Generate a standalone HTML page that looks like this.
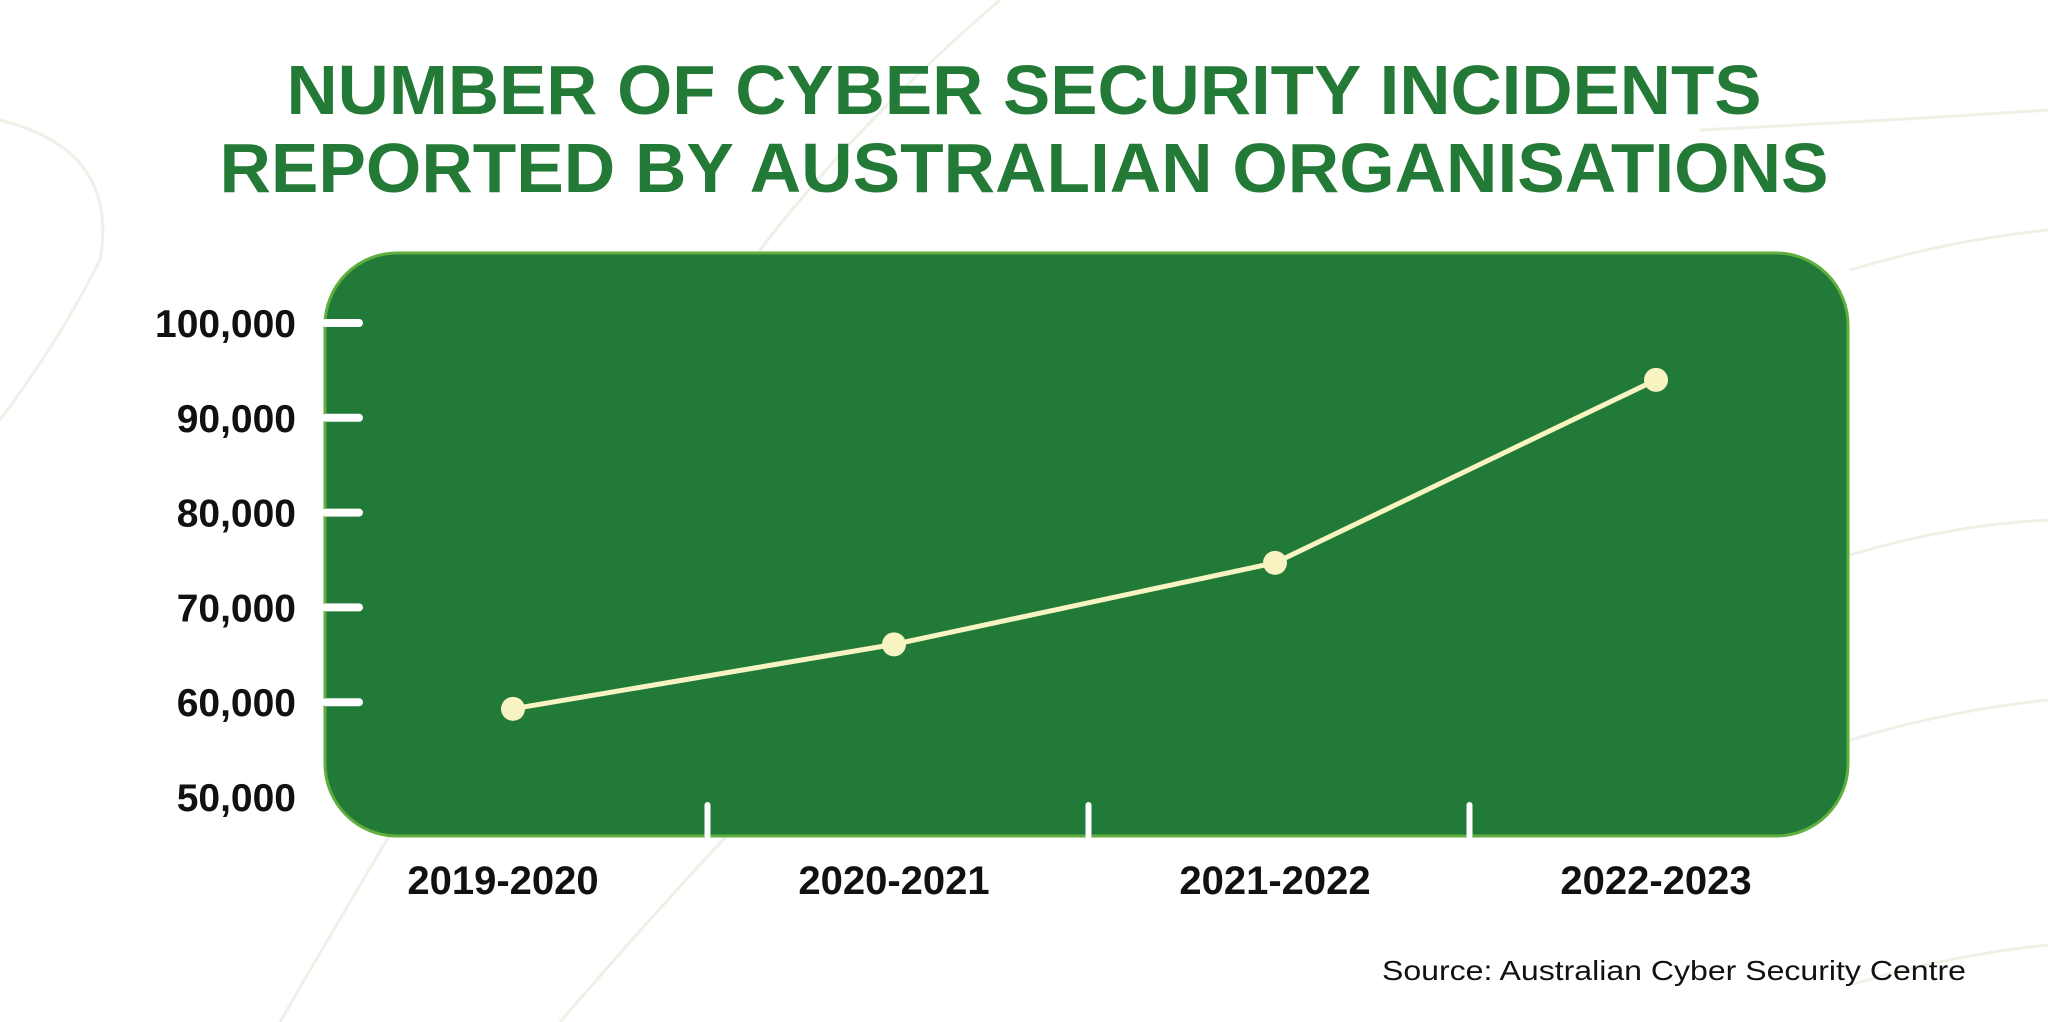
<!DOCTYPE html>
<html><head><meta charset="utf-8"><style>
html,body{margin:0;padding:0;background:#fff}
svg{display:block}
text{font-family:"Liberation Sans",sans-serif}
</style></head><body>
<svg id="c" width="2048" height="1022" viewBox="0 0 2048 1022">
<g fill="none" stroke="#eef1e6" stroke-width="3">
<path d="M0 120 Q120 150 100 260 Q60 340 0 420"/>
<path d="M280 1022 Q500 640 760 250 Q860 120 1000 0"/>
<path d="M560 1022 Q700 860 800 760"/>
<path d="M1850 270 Q1950 240 2048 230"/>
<path d="M1850 555 Q1950 525 2048 520"/>
<path d="M1850 740 Q1950 710 2048 700"/>
<path d="M1850 985 Q1950 955 2048 945"/>
<path d="M1700 130 Q1900 120 2048 110"/>
</g>
<text x="1024" y="114" text-anchor="middle" font-size="70" font-weight="bold" fill="#237a37" textLength="1475" lengthAdjust="spacingAndGlyphs">NUMBER OF CYBER SECURITY INCIDENTS</text>
<text x="1024" y="192" text-anchor="middle" font-size="70" font-weight="bold" fill="#237a37" textLength="1609" lengthAdjust="spacingAndGlyphs">REPORTED BY AUSTRALIAN ORGANISATIONS</text>
<rect x="325" y="253" width="1523" height="583" rx="72" fill="#217a37" stroke="#5fae3e" stroke-width="3"/>
<g id="axes"></g>
<g id="series"></g>
<text x="1966" y="980" text-anchor="end" font-size="28" fill="#111" textLength="584" lengthAdjust="spacingAndGlyphs">Source: Australian Cyber Security Centre</text>
</svg>
<script>
const categories = ["2019-2020","2020-2021","2021-2022","2022-2023"];
const incidents = [59300, 66100, 74700, 94000];
const yTicks = [50000, 60000, 70000, 80000, 90000, 100000];
const yTickLabels = ["50,000","60,000","70,000","80,000","90,000","100,000"];

const NS = "http://www.w3.org/2000/svg";
function y(v){ return 797 - (v - 50000) / 10000 * 94.8; }
function x(i){ return 513 + i * 381; }
function mk(tag, attrs, parent){
  const e = document.createElementNS(NS, tag);
  for (const k in attrs) e.setAttribute(k, attrs[k]);
  parent.appendChild(e); return e;
}
const axes = document.getElementById("axes");
const series = document.getElementById("series");
yTicks.forEach((v, i) => {
  const t = mk("text", {x: 296, y: y(v) + 14, "text-anchor": "end", "font-size": 39, "font-weight": "bold", fill: "#111"}, axes);
  t.textContent = yTickLabels[i];
  
  
  if (v > 50000) {
    const l = mk("line", {x1: 326, x2: 359, y1: y(v), y2: y(v), stroke: "#fff", "stroke-width": 8, "stroke-linecap": "round"}, axes);
    
    
  }
});
categories.forEach((c, i) => {
  const t = mk("text", {x: x(i) - (i === 0 ? 10 : 0), y: 894, "text-anchor": "middle", "font-size": 40, "font-weight": "bold", fill: "#111"}, axes);
  t.textContent = c;
  
  
  if (i > 0) {
    const xm = (x(i - 1) + x(i)) / 2 + 4;
    const l = mk("line", {x1: xm, x2: xm, y1: 805, y2: 836, stroke: "#fff", "stroke-width": 6, "stroke-linecap": "round"}, axes);
    
    
  }
});
const pts = incidents.map((v, i) => x(i) + "," + y(v)).join(" ");
const pl = mk("polyline", {points: pts, fill: "none", stroke: "#f8f4c2", "stroke-width": 5, "stroke-linejoin": "round"}, series);


incidents.forEach((v, i) => {
  const c = mk("circle", {cx: x(i), cy: y(v), r: 12, fill: "#f8f4c2"}, series);
  
  
});
</script>
</body></html>
